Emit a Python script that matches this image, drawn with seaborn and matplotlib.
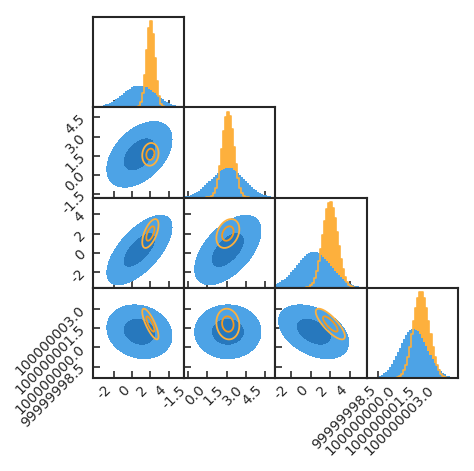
import math
import numpy as np
import pandas as pd
import matplotlib
matplotlib.use("Agg")
import matplotlib.pyplot as plt
import seaborn as sns

# parameters of the two posteriors
blue_mean = [0.8, 1.6, 0.3, 1.2]
blue_sd = [1.8, 1.3, 1.8, 1.05]
blue_corr = [[1.0, 0.45, 0.65, -0.15],
             [0.45, 1.0, 0.55, 0.0],
             [0.65, 0.55, 1.0, -0.4],
             [-0.15, 0.0, -0.4, 1.0]]
orange_mean = [2.0, 1.6, 2.0, 1.8]
orange_sd = [0.45, 0.45, 0.75, 0.6]
orange_corr = [[1.0, 0.1, 0.6, -0.8],
               [0.1, 1.0, 0.3, -0.1],
               [0.6, 0.3, 1.0, -0.8],
               [-0.8, -0.1, -0.8, 1.0]]

ranges = [(-4.3, 5.7), (-1.8, 5.3), (-3.6, 5.7), (-2.4, 4.6)]
ticks = [[-2, 0, 2, 4], [-1.5, 0, 1.5, 3.0, 4.5], [-2, 0, 2, 4], [-1.5, 0, 1.5, 3.0]]
x3_offset = 100000000.0
levels_mass = [0.39, 0.86]
n_bins = 45

light_blue = "#4da3e6"
dark_blue = "#2778bd"
orange = "#fdb03d"
dark_orange = "#f59a1f"


def cov(sd, corr):
    sd = np.array(sd)
    return np.array(corr) * np.outer(sd, sd)


def bin_probs(mu, s, edges):
    cdf = np.array([0.5 * (1 + math.erf((e - mu) / (s * math.sqrt(2)))) for e in edges])
    return np.diff(cdf) / np.diff(edges)


def mahal(mu, c, i, j, X, Y):
    sub = np.array([[c[i, i], c[i, j]], [c[j, i], c[j, j]]])
    inv = np.linalg.inv(sub)
    dx, dy = X - mu[i], Y - mu[j]
    return inv[0, 0] * dx * dx + 2 * inv[0, 1] * dx * dy + inv[1, 1] * dy * dy


cb = cov(blue_sd, blue_corr)
co = cov(orange_sd, orange_corr)
r2 = [-2 * math.log(1 - m) for m in levels_mass]

sns.set_theme(style="ticks")
fig, axes = plt.subplots(4, 4, figsize=(4.74, 4.71), dpi=100)
fig.subplots_adjust(left=0.196, right=0.966, bottom=0.197, top=0.964, wspace=0, hspace=0)


def fmt(k, v):
    if k == 3:
        return f"{v + x3_offset:.1f}"
    return f"{v:g}" if k != 1 else f"{v:.1f}"


n = 4
for r in range(n):
    for c in range(n):
        ax = axes[r, c]
        if c > r:
            ax.set_axis_off()
            continue
        if r == c:
            edges = np.linspace(ranges[r][0], ranges[r][1], n_bins + 1)
            centers = 0.5 * (edges[1:] + edges[:-1])
            po = bin_probs(orange_mean[r], orange_sd[r], edges)
            pb = bin_probs(blue_mean[r], blue_sd[r], edges)
            df = pd.DataFrame({"x": centers, "po": po, "pb": pb})
            kw = dict(data=df, x="x", bins=n_bins, binrange=ranges[r], ax=ax, element="step")
            sns.histplot(weights="po", color=orange, alpha=1, linewidth=0, **kw)
            sns.histplot(weights="pb", color=light_blue, alpha=1, linewidth=0, **kw)
            sns.histplot(weights="po", color=orange, fill=False, linewidth=1.2, **kw)
            ax.set_ylim(0, max(po.max(), pb.max()) * 1.05)
            ax.set_yticks([])
        else:
            gx = np.linspace(ranges[c][0], ranges[c][1], 200)
            gy = np.linspace(ranges[r][0], ranges[r][1], 200)
            X, Y = np.meshgrid(gx, gy)
            db = mahal(blue_mean, cb, c, r, X, Y)
            do = mahal(orange_mean, co, c, r, X, Y)
            ax.contourf(X, Y, db, levels=[0, r2[0], r2[1]], colors=[dark_blue, light_blue])
            ax.contour(X, Y, do, levels=[r2[0]], colors=[dark_orange], linewidths=1.3)
            ax.contour(X, Y, do, levels=[r2[1]], colors=[orange], linewidths=1.3)
            ax.set_ylim(ranges[r])
            ax.set_yticks(ticks[r])
            if c == 0:
                ax.set_yticklabels([fmt(r, v) for v in ticks[r]], rotation=45)
            else:
                ax.set_yticklabels([])
        ax.set_xlim(ranges[c])
        ax.set_xticks(ticks[c])
        if r == n - 1:
            ax.set_xticklabels([fmt(c, v) for v in ticks[c]], rotation=45, ha="right")
        else:
            ax.set_xticklabels([])
        ax.set_xlabel("")
        ax.set_ylabel("")
        ax.tick_params(direction="in", length=5, labelsize=10, color="#333333")
        for s in ax.spines.values():
            s.set_linewidth(1.5)
            s.set_color("#262626")

fig.savefig("out.png", dpi=100)
